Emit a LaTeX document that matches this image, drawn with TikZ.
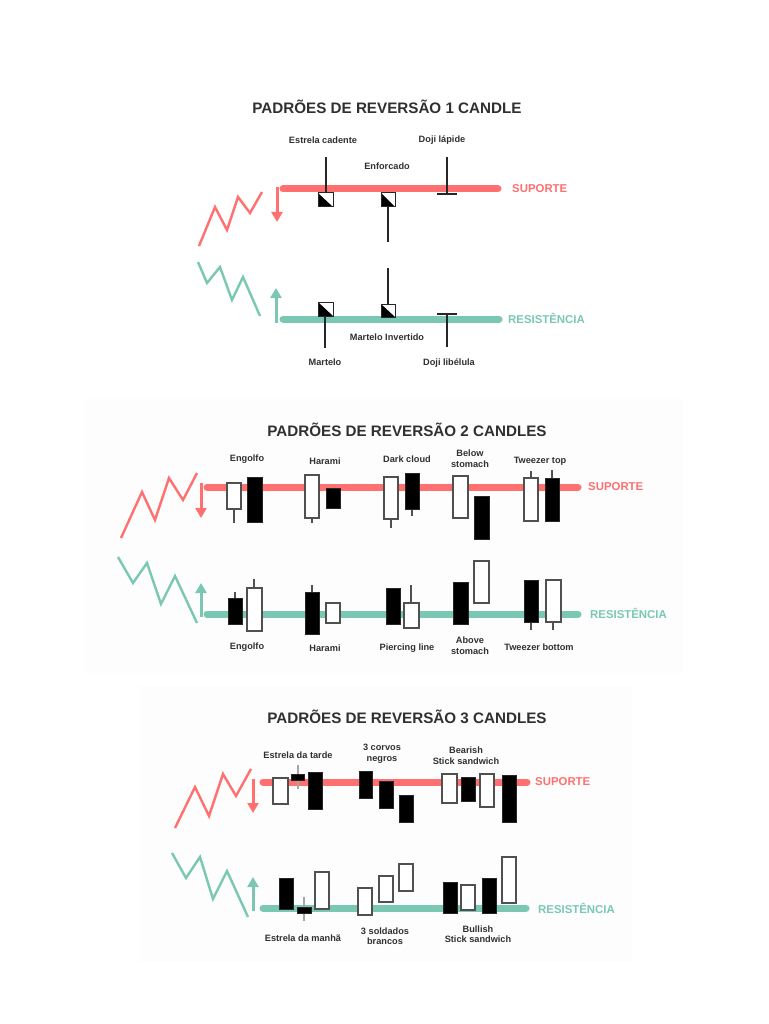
\documentclass[tikz,border=0pt]{standalone}
\usepackage{fontspec}
\setmainfont{Liberation Sans}
\usetikzlibrary{arrows.meta}
\definecolor{supred}{RGB}{255,112,112}
\definecolor{resteal}{RGB}{122,200,180}
\definecolor{txt}{RGB}{48,48,48}
\definecolor{cgray}{RGB}{80,80,80}
\definecolor{bgfaint}{RGB}{253,253,253}
\begin{document}
\begin{tikzpicture}[x=1pt,y=-1pt,
  ttl/.style={font=\bfseries\fontsize{15.2}{18}\selectfont, text=txt, inner sep=0pt},
  lbl/.style={font=\bfseries\fontsize{9.2}{10.6}\selectfont, text=txt, align=center, inner sep=0pt},
  suplbl/.style={font=\bfseries\fontsize{11.4}{13}\selectfont, text=supred, anchor=west, inner sep=0pt},
  reslbl/.style={font=\bfseries\fontsize{11.4}{13}\selectfont, text=resteal, anchor=west, inner sep=0pt},
  supline/.style={draw=supred, line width=7pt, line cap=round},
  resline/.style={draw=resteal, line width=7pt, line cap=round},
  suparrow/.style={draw=supred, line width=3pt, -{Triangle[width=11pt,length=10pt]}},
  resarrow/.style={draw=resteal, line width=3pt, -{Triangle[width=11pt,length=10pt]}},
  supzig/.style={draw=supred, line width=2.4pt},
  reszig/.style={draw=resteal, line width=2.4pt},
  wc/.style={fill=white, draw=cgray, line width=1.2pt},
  bc/.style={fill=black, draw=black!85, line width=1pt},
  wick/.style={draw=cgray, line width=1.2pt},
  dwick/.style={draw=black!85, line width=1.4pt},
  lwick/.style={draw=black!35, line width=1.2pt}
]
\useasboundingbox (0,0) rectangle (768,1024);
\fill[white] (0,0) rectangle (768,1024);
\fill[bgfaint] (84,399) rectangle (683,673);
\fill[bgfaint] (140,686) rectangle (632,962);

% ================= SECTION 1 =================
\node[ttl] (t1) at (387,107) {PADRÕES DE REVERSÃO 1 CANDLE};

\coordinate (s1a) at (283,189); \coordinate (s1b) at (498,189);
\draw[supline] (s1a) -- (s1b);
\node[suplbl] (s1l) at (512,189) {SUPORTE};
\coordinate (s1u) at (277,187); \coordinate (s1d) at (277,222);
\draw[suparrow] (s1u) -- (s1d);
\draw[supzig] (199,246) -- (215,207) -- (227,230) -- (238,197) -- (250,213) -- (262,192);

% Estrela cadente
\node[lbl] (l1) at (323,140) {Estrela cadente};
\draw[dwick] (326,157) -- (326,193);
\fill[white] (318,193) rectangle (333,207);
\fill[black] (318,193) -- (333,207) -- (318,207) -- cycle;
\draw[black!85, line width=1pt] (318,193) rectangle (333,207);
% Enforcado
\node[lbl] (l2) at (387,166) {Enforcado};
\draw[dwick] (388,207) -- (388,242);
\fill[white] (381,193) rectangle (395,207);
\fill[black] (381,193) -- (395,207) -- (381,207) -- cycle;
\draw[black!85, line width=1pt] (381,193) rectangle (395,207);
% Doji lapide
\node[lbl] (l3) at (442,140) {Doji lápide};
\draw[dwick] (447,157) -- (447,194);
\draw[dwick] (437,194) -- (457,194);

\coordinate (r1a) at (283,319); \coordinate (r1b) at (499,319);
\draw[resline] (r1a) -- (r1b);
\node[reslbl] (r1l) at (508,318) {RESISTÊNCIA};
\coordinate (r1d) at (276,323); \coordinate (r1u) at (276,288);
\draw[resarrow] (r1d) -- (r1u);
\draw[reszig] (198,262) -- (207,283) -- (220,267) -- (232,300) -- (243,277) -- (260,316);

% Martelo
\draw[dwick] (325,316) -- (325,348);
\fill[white] (318,302) rectangle (333,316);
\fill[black] (318,302) -- (333,316) -- (318,316) -- cycle;
\draw[black!85, line width=1pt] (318,302) rectangle (333,316);
\node[lbl] (l4) at (325,362) {Martelo};
% Martelo invertido
\draw[dwick] (388,268) -- (388,304);
\fill[white] (381,304) rectangle (395,317);
\fill[black] (381,304) -- (395,317) -- (381,317) -- cycle;
\draw[black!85, line width=1pt] (381,304) rectangle (395,317);
\node[lbl] (l5) at (387,337) {Martelo Invertido};
% Doji libelula
\draw[dwick] (447,314) -- (447,347);
\draw[dwick] (437,314) -- (457,314);
\node[lbl] (l6) at (449,363) {Doji libélula};

% ================= SECTION 2 =================
\node[ttl] (t2) at (407,430) {PADRÕES DE REVERSÃO 2 CANDLES};

\coordinate (s2a) at (207,487); \coordinate (s2b) at (578,487);
\draw[supline] (s2a) -- (s2b);
\node[suplbl] (s2l) at (588,487) {SUPORTE};
\coordinate (s2u) at (201,483); \coordinate (s2d) at (201,518);
\draw[suparrow] (s2u) -- (s2d);
\draw[supzig] (121,538) -- (142,492) -- (155,520) -- (169,478) -- (183,500) -- (197,473);

% Engolfo (top)
\node[lbl] (m1) at (247,459) {Engolfo};
\draw[wick] (234,509) -- (234,523);
\draw[wc] (227,483) rectangle (241,509);
\draw[bc] (247,477) rectangle (262,522);
% Harami (top)
\node[lbl] (m2) at (325,461) {Harami};
\draw[wick] (312,518) -- (312,523);
\draw[wc] (305,475) rectangle (319,518);
\draw[bc] (326,488) rectangle (340,508);
% Dark cloud
\node[lbl] (m3) at (407,459) {Dark cloud};
\draw[wick] (391,519) -- (391,528);
\draw[wc] (384,477) rectangle (398,519);
\draw[wick] (412,509) -- (412,516);
\draw[bc] (405,473) rectangle (419,509);
% Below stomach
\node[lbl] (m4) at (470,459) {Below\\stomach};
\draw[wc] (453,476) rectangle (468,518);
\draw[bc] (474,496) rectangle (489,539);
% Tweezer top
\node[lbl] (m5) at (540,461) {Tweezer top};
\draw[wick] (531,471) -- (531,478);
\draw[wc] (524,478) rectangle (538,521);
\draw[wick] (552,470) -- (552,478);
\draw[bc] (545,478) rectangle (559,521);

\coordinate (r2a) at (207,614); \coordinate (r2b) at (578,614);
\draw[resline] (r2a) -- (r2b);
\node[reslbl] (r2l) at (590,613) {RESISTÊNCIA};
\coordinate (r2d) at (201,617); \coordinate (r2u) at (201,583);
\draw[resarrow] (r2d) -- (r2u);
\draw[reszig] (118,557) -- (133,583) -- (147,563) -- (161,604) -- (175,576) -- (197,623);

% Engolfo (bottom)
\draw[wick] (235,592) -- (235,598);
\draw[bc] (228,598) rectangle (242,624);
\draw[wick] (254,579) -- (254,588);
\draw[wc] (247,588) rectangle (262,631);
\node[lbl] (n1) at (247,647) {Engolfo};
% Harami (bottom)
\draw[wick] (312,585) -- (312,592);
\draw[bc] (305,592) rectangle (319,634);
\draw[wc] (326,603) rectangle (340,623);
\node[lbl] (n2) at (325,648) {Harami};
% Piercing line
\draw[bc] (386,588) rectangle (400,624);
\draw[wick] (411,585) -- (411,603);
\draw[wc] (404,603) rectangle (419,628);
\node[lbl] (n3) at (407,648) {Piercing line};
% Above stomach
\draw[bc] (453,582) rectangle (468,624);
\draw[wc] (474,561) rectangle (489,603);
\node[lbl] (n4) at (470,646) {Above\\stomach};
% Tweezer bottom
\draw[wick] (531,622) -- (531,630);
\draw[bc] (524,580) rectangle (538,622);
\draw[wick] (553,622) -- (553,630);
\draw[wc] (546,580) rectangle (561,622);
\node[lbl] (n5) at (539,647) {Tweezer bottom};

% ================= SECTION 3 =================
\node[ttl] (t3) at (407,717) {PADRÕES DE REVERSÃO 3 CANDLES};

\coordinate (s3a) at (263,782); \coordinate (s3b) at (527,782);
\draw[supline] (s3a) -- (s3b);
\node[suplbl] (s3l) at (535,782) {SUPORTE};
\coordinate (s3u) at (253,779); \coordinate (s3d) at (253,813);
\draw[suparrow] (s3u) -- (s3d);
\draw[supzig] (175,828) -- (195,787) -- (209,816) -- (223,774) -- (236,796) -- (251,769);

% Estrela da tarde
\node[lbl] (p1) at (298,755) {Estrela da tarde};
\draw[wc] (273,778) rectangle (288,804);
\draw[lwick] (298,765) -- (298,789);
\draw[bc] (291,774) rectangle (304,780);
\draw[bc] (308,772) rectangle (322,809);
% 3 corvos negros
\node[lbl] (p2) at (382,754) {3 corvos\\negros};
\draw[bc] (359,771) rectangle (372,798);
\draw[bc] (379,781) rectangle (393,808);
\draw[bc] (399,795) rectangle (413,822);
% Bearish stick sandwich
\node[lbl] (p3) at (466,756) {Bearish\\Stick sandwich};
\draw[wc] (442,774) rectangle (457,803);
\draw[bc] (461,777) rectangle (475,801);
\draw[wc] (480,774) rectangle (494,807);
\draw[bc] (502,775) rectangle (516,822);

\coordinate (r3a) at (263,908); \coordinate (r3b) at (526,908);
\draw[resline] (r3a) -- (r3b);
\node[reslbl] (r3l) at (538,908) {RESISTÊNCIA};
\coordinate (r3d) at (253,911); \coordinate (r3u) at (253,877);
\draw[resarrow] (r3d) -- (r3u);
\draw[reszig] (172,853) -- (186,878) -- (200,857) -- (213,899) -- (227,871) -- (248,917);

% Estrela da manha
\draw[bc] (279,878) rectangle (293,909);
\draw[lwick] (304,897) -- (304,921);
\draw[bc] (297,907) rectangle (311,913);
\draw[wc] (315,872) rectangle (329,909);
\node[lbl] (q1) at (303,938) {Estrela da manhã};
% 3 soldados brancos
\draw[wc] (358,888) rectangle (372,915);
\draw[wc] (379,876) rectangle (393,902);
\draw[wc] (399,864) rectangle (413,891);
\node[lbl] (q2) at (385,936) {3 soldados\\brancos};
% Bullish stick sandwich
\draw[bc] (443,882) rectangle (457,913);
\draw[wc] (461,885) rectangle (475,910);
\draw[bc] (482,878) rectangle (496,913);
\draw[wc] (502,857) rectangle (516,903);
\node[lbl] (q3) at (478,934) {Bullish\\Stick sandwich};
\end{tikzpicture}
\end{document}
